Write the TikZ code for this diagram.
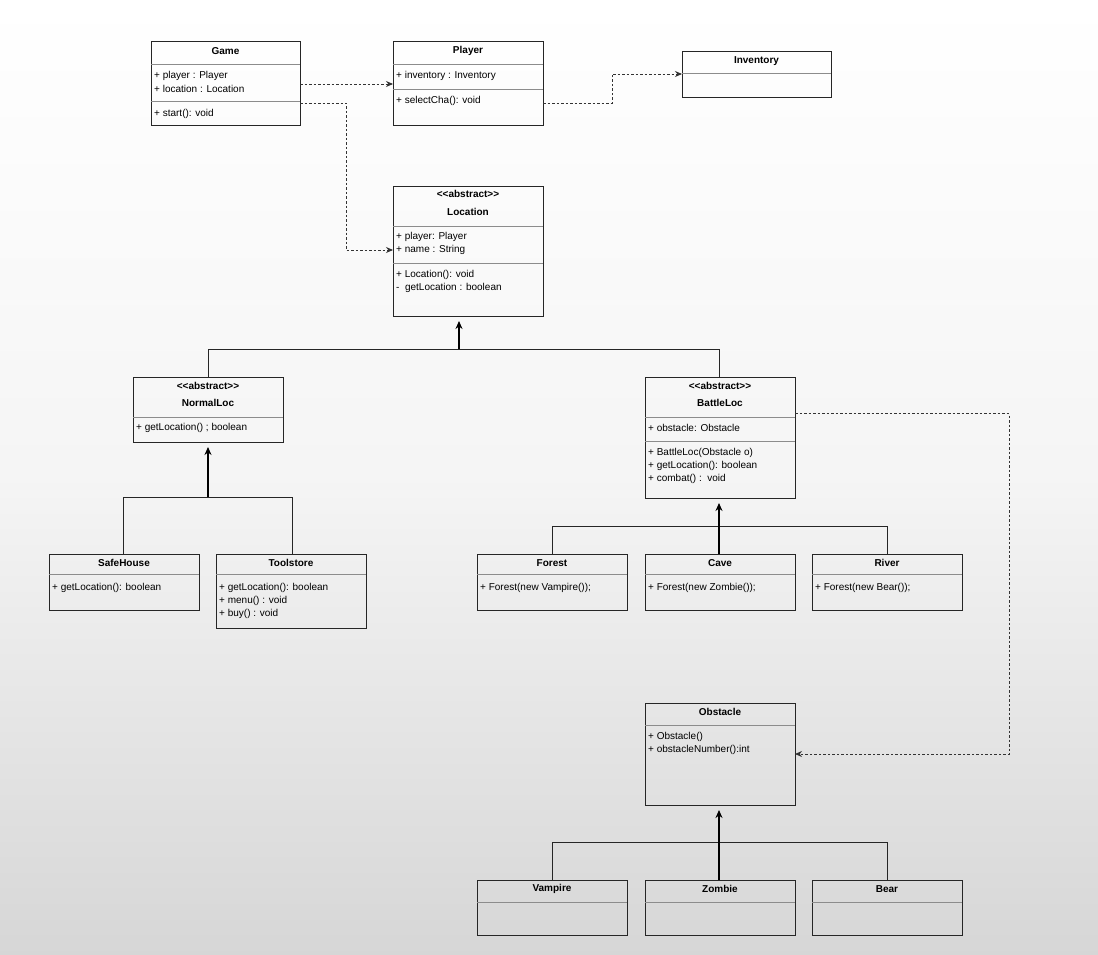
\documentclass[tikz,border=0pt]{standalone}
\usepackage{fontspec}
\setmainfont{Liberation Sans}
\usetikzlibrary{arrows.meta}
\tikzset{
  ubox/.style={draw=black!85,line width=0.9pt,fill=none,rectangle,inner sep=0pt,outer sep=0pt},
  divline/.style={draw=black!45,line width=0.7pt},
  ttl/.style={font=\fontsize{10}{12}\selectfont\bfseries,inner sep=0pt},
  mem/.style={font=\fontsize{10}{12}\selectfont,anchor=west,inner sep=0pt},
  dep/.style={draw=black!80,line width=0.9pt,dash pattern=on 2.5pt off 2pt,-{Stealth[length=7pt,width=6pt]}},
  inh/.style={draw=black!85,line width=0.9pt},
  inharr/.style={draw=black,line width=1.4pt,-{Stealth[length=8pt,width=7pt]}}
}
\newcommand\ubox[5]{\node[ubox,minimum width={(#4-#2)*1pt},minimum height={(#5-#3)*1pt}] (#1) at ({(#2+#4)/2},{(#3+#5)/2}) {};}
\newcommand\dv[3]{\draw[divline] (#1,#3) -- (#2,#3);}
\begin{document}
\begin{tikzpicture}[x=1pt,y=-1pt]
\shade[top color=white,bottom color=black!16,middle color=black!4] (0,0) rectangle (1098,955);
\useasboundingbox (0,0) rectangle (1098,955);
% Game
\ubox{game}{151}{41}{300}{125}\dv{151}{300}{64}\dv{151}{300}{101}
\node[ttl] at (225.5,51) {Game};
\node[mem] at (154,76) {+ player : Player};
\node[mem] at (154,89) {+ location : Location};
\node[mem] at (154,114) {+ start(): void};
% Player
\ubox{player}{393}{41}{543}{125}\dv{393}{543}{64}\dv{393}{543}{89}
\node[ttl] at (468,51) {Player};
\node[mem] at (396,76) {+ inventory : Inventory};
\node[mem] at (396,101) {+ selectCha(): void};
% Inventory
\ubox{inv}{682}{51}{831}{97}\dv{682}{831}{73}
\node[ttl] at (756.5,61) {Inventory};
% Location
\ubox{loc}{393}{186}{543}{316}\dv{393}{543}{226}\dv{393}{543}{263}
\node[ttl,font=\fontsize{10}{12}\selectfont\bfseries] at (468,194) {<{}<abstract>{}>};
\node[ttl] at (468,212) {Location};
\node[mem] at (396,237) {+ player: Player};
\node[mem] at (396,250) {+ name : String};
\node[mem] at (396,275) {+ Location(): void};
\node[mem] at (396,288) {-\ \ getLocation : boolean};
% NormalLoc
\ubox{normal}{133}{377}{283}{442}\dv{133}{283}{417}
\node[ttl] at (208,386) {<{}<abstract>{}>};
\node[ttl] at (208,403) {NormalLoc};
\node[mem] at (136,428) {+ getLocation() ; boolean};
% BattleLoc
\ubox{battle}{645}{377}{795}{498}\dv{645}{795}{417}\dv{645}{795}{441}
\node[ttl] at (720,386) {<{}<abstract>{}>};
\node[ttl] at (720,403) {BattleLoc};
\node[mem] at (648,428) {+ obstacle: Obstacle};
\node[mem] at (648,453) {+ BattleLoc(Obstacle o)};
\node[mem] at (648,466) {+ getLocation(): boolean};
\node[mem] at (648,479) {+ combat() :\ \ void};
% SafeHouse
\ubox{safe}{49}{554}{199}{610}\dv{49}{199}{574}
\node[ttl] at (124,563) {SafeHouse};
\node[mem] at (52,588) {+ getLocation(): boolean};
% Toolstore
\ubox{tool}{216}{554}{366}{628}\dv{216}{366}{574}
\node[ttl] at (291,563) {Toolstore};
\node[mem] at (219,588) {+ getLocation(): boolean};
\node[mem] at (219,601) {+ menu() : void};
\node[mem] at (219,614) {+ buy() : void};
% Forest Cave River
\ubox{forest}{477}{554}{627}{610}\dv{477}{627}{574}
\node[ttl] at (552,563) {Forest};
\node[mem] at (480,588) {+ Forest(new Vampire());};
\ubox{cave}{645}{554}{795}{610}\dv{645}{795}{574}
\node[ttl] at (720,563) {Cave};
\node[mem] at (648,588) {+ Forest(new Zombie());};
\ubox{river}{812}{554}{962}{610}\dv{812}{962}{574}
\node[ttl] at (887,563) {River};
\node[mem] at (815,588) {+ Forest(new Bear());};
% Obstacle
\ubox{obst}{645}{703}{795}{805}\dv{645}{795}{725}
\node[ttl] at (720,712) {Obstacle};
\node[mem] at (648,737) {+ Obstacle()};
\node[mem] at (648,750) {+ obstacleNumber():int};
% Vampire Zombie Bear
\ubox{vamp}{477}{880}{627}{935}\dv{477}{627}{902}
\node[ttl] at (552,889) {Vampire};
\ubox{zomb}{645}{880}{795}{935}\dv{645}{795}{902}
\node[ttl] at (720,889) {Zombie};
\ubox{bear}{812}{880}{962}{935}\dv{812}{962}{902}
\node[ttl] at (887,889) {Bear};
% dependencies
\draw[dep] ([yshift=-1pt]game.east) -- ([yshift=-1pt]game.east -| player.west);
\draw[dep] ([yshift=-20pt]game.east) -| (346,250) -- (loc.west |- 0,250);
\draw[dep] ([yshift=-20pt]player.east) -| (612,74) -- (inv.west |- 0,74);
\draw[dep] ([yshift=24pt]battle.east) -| (1009,754) -- (obst.east |- 0,754);
% inheritance
\draw[inh] (normal.north -| 208,0) |- (719,349) -- (battle.north -| 719,0);
\draw[inharr] (459,349) -- ([yshift=-5pt]loc.south -| 459,0);
\draw[inh] (safe.north -| 123,0) |- (292,497) -- (tool.north -| 292,0);
\draw[inharr] (208,497) -- ([yshift=-5pt]normal.south);
\draw[inh] (forest.north) |- (887,526) -- (river.north);
\draw[inharr] (cave.north -| 719,0) -- ([yshift=-5pt]battle.south -| 719,0);
\draw[inh] (vamp.north) |- (887,842) -- (bear.north);
\draw[inharr] (zomb.north -| 719,0) -- ([yshift=-5pt]obst.south -| 719,0);
\end{tikzpicture}
\end{document}
